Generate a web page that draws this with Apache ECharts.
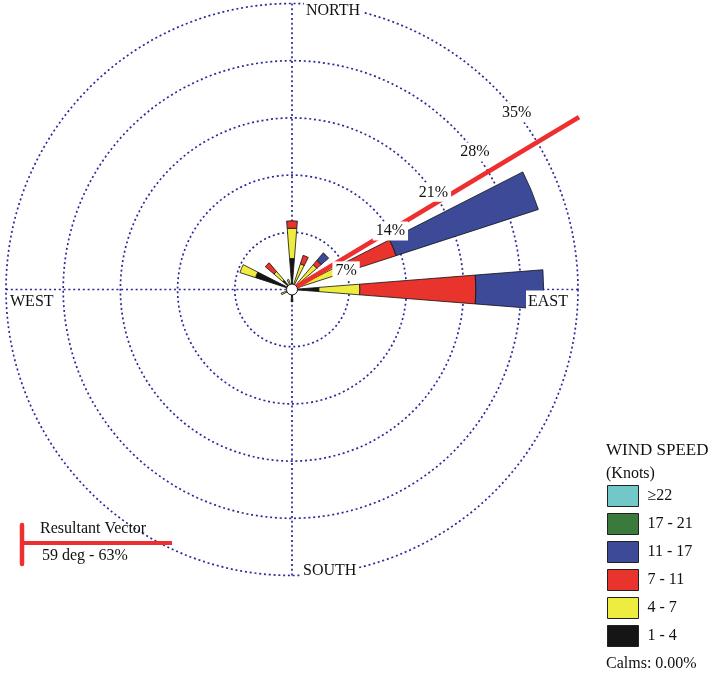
<!DOCTYPE html>
<html><head><meta charset="utf-8">
<script src="https://cdn.jsdelivr.net/npm/echarts@6/dist/echarts.min.js"></script>
<style>html,body{margin:0;padding:0;background:#fff}#c{width:716px;height:674px}</style>
</head><body><div id="c"></div>
<script>
// ---- data ----
const directions = ['N','NNE','NE','ENE','E','ESE','SE','SSE','S','SSW','SW','WSW','W','WNW','NW','NNW'];
const speedClasses = ['1 - 4','4 - 7','7 - 11','11 - 17','17 - 21','≥22'];
// percent frequency per direction for each speed class (null = none)
const speed1to4   = [3.8, 0.6, 0.8, 0.8, 3.3, null, null, null, 1.5, null, null, 0.5, null, 4.7, 1.5, 0.6];
const speed4to7   = [3.7, 2.7, 3.2, 5.0, 5.0, null, null, null, null, null, null, 0.9, null, 2.0, 1.4, 0.7];
const speed7to11  = [0.9, 1.1, 0.7, 7.6, 14.2, null, null, null, null, null, null, null, null, null, 1.4, null];
const speed11to17 = [null, null, 1.2, 18.3, 8.3, null, null, null, null, null, null, null, null, null, null, null];
const speed17to21 = [null, null, null, null, null, null, null, null, null, null, null, null, null, null, null, null];
const speed22up   = [null, null, null, null, null, null, null, null, null, null, null, null, null, null, null, null];
const ringTicks = [7, 14, 21, 28, 35];
const radialMax = 35;
const resultantBearing = 59;       // deg
const resultantDrawnLength = 41;   // % on radial scale (line runs off the rose)
const resultantText = ['Resultant Vector', '59 deg - 63%'];
const legendTitle = ['WIND SPEED', '(Knots)'];
const calmsText = 'Calms: 0.00%';

// ---- styles ----
const CX = 292, CY = 289.5, R = 286;
const FONT = '"Liberation Serif", "Times New Roman", serif';
const GRID = { color: '#2a2a9a', width: 1.7, type: [2, 2.8] };
const classColors = ['#151515', '#eeec3e', '#e8342c', '#3c4a98', '#3a7a3c', '#70c8c8'];
const classData = [speed1to4, speed4to7, speed7to11, speed11to17, speed17to21, speed22up];
const ringLabelBearing = {7: 71, 14: 59.3, 21: 55.5, 28: 53.1, 35: 51.8};

const chart = echarts.init(document.getElementById('c'), null, {renderer: 'canvas'});

const hiddenAxis = { axisLine: { show: false }, axisTick: { show: false }, axisLabel: { show: false }, splitLine: { show: false } };

const barSeries = speedClasses.map((name, i) => ({
  name, type: 'bar', coordinateSystem: 'polar', polarIndex: 1, stack: 'wind',
  barWidth: '40%', z: 3,
  itemStyle: { color: classColors[i], borderColor: '#111', borderWidth: 0.8 },
  data: classData[i]
}));

const option = {
  animation: false,
  backgroundColor: '#fff',
  polar: [
    { center: [CX, CY], radius: R },
    { center: [CX, CY], radius: R },
    // same scale, extended so the resultant vector may run past the outer ring
    { center: [CX, CY], radius: R * resultantDrawnLength / radialMax }
  ],
  angleAxis: [
    { polarIndex: 0, type: 'value', min: 0, max: 360, interval: 90, startAngle: 90, clockwise: true,
      axisLine: { show: false }, axisTick: { show: false }, axisLabel: { show: false },
      splitLine: { show: true, lineStyle: GRID } },
    Object.assign({ polarIndex: 1, type: 'category', data: directions, startAngle: 90 + 180 / directions.length, clockwise: true }, hiddenAxis),
    Object.assign({ polarIndex: 2, type: 'value', min: 0, max: 360, startAngle: 90, clockwise: true }, hiddenAxis)
  ],
  radiusAxis: [
    { polarIndex: 0, type: 'value', min: 0, max: radialMax, interval: 7,
      axisLine: { show: false }, axisTick: { show: false }, axisLabel: { show: false },
      splitLine: { show: true, lineStyle: GRID } },
    Object.assign({ polarIndex: 1, type: 'value', min: 0, max: radialMax, interval: 7 }, hiddenAxis),
    Object.assign({ polarIndex: 2, type: 'value', min: 0, max: resultantDrawnLength }, hiddenAxis)
  ],
  legend: {
    orient: 'vertical', left: 607, top: 485, padding: 0, itemWidth: 31, itemHeight: 21, itemGap: 6,
    icon: 'rect', selectedMode: false,
    data: speedClasses.slice().reverse(),
    itemStyle: { borderColor: '#222', borderWidth: 1 },
    textStyle: { fontFamily: FONT, fontSize: 16, color: '#111', padding: [0, 0, 0, 4] }
  },
  series: [
    ...barSeries,
    { type: 'line', coordinateSystem: 'polar', polarIndex: 2, clip: false, z: 4,
      symbol: 'none', silent: true,
      lineStyle: { color: '#ee2f2f', width: 4.5, cap: 'butt' },
      data: [[0, resultantBearing], [resultantDrawnLength, resultantBearing]] },
    { type: 'scatter', coordinateSystem: 'polar', polarIndex: 0, z: 6, silent: true,
      symbolSize: 11, itemStyle: { color: '#fff', borderColor: '#111', borderWidth: 1, opacity: 1 },
      data: [[0, 0]] },
    { type: 'scatter', coordinateSystem: 'polar', polarIndex: 0, z: 7, silent: true,
      symbolSize: 1, itemStyle: { color: 'rgba(0,0,0,0)', opacity: 1 },
      label: { show: true, position: 'inside', formatter: p => p.value[0] + '%',
        backgroundColor: '#fff', padding: [2, 3, 1, 3], opacity: 1,
        fontFamily: FONT, fontSize: 16, color: '#111' },
      data: ringTicks.map(v => [v, ringLabelBearing[v]]) }
  ],
  graphic: [
    // compass labels
    { type: 'text', z: 100, x: CX + 12, y: CY - R + 7.5, style: { text: 'NORTH', font: '16px ' + FONT, fill: '#111', textVerticalAlign: 'middle', backgroundColor: '#fff', padding: [1, 2, 1, 2] } },
    { type: 'text', z: 100, x: CX + 9, y: CY + R - 4.5, style: { text: 'SOUTH', font: '16px ' + FONT, fill: '#111', textVerticalAlign: 'middle', backgroundColor: '#fff', padding: [1, 2, 1, 2] } },
    { type: 'text', z: 100, x: CX - R + 2, y: CY + 12.5, style: { text: 'WEST', font: '16px ' + FONT, fill: '#111', textVerticalAlign: 'middle', padding: [1, 2, 1, 2] } },
    { type: 'text', z: 100, x: CX + 234, y: CY + 12.5, style: { text: 'EAST', font: '16px ' + FONT, fill: '#111', textVerticalAlign: 'middle', backgroundColor: '#fff', padding: [5, 2, 2, 2] } },
    // resultant vector key
    { type: 'line', z: 100, shape: { x1: 22, y1: 525, x2: 22, y2: 564 }, style: { stroke: '#ee2f2f', lineWidth: 4.5, lineCap: 'round' } },
    { type: 'line', z: 100, shape: { x1: 22, y1: 543, x2: 172, y2: 543 }, style: { stroke: '#ee2f2f', lineWidth: 4, lineCap: 'butt' } },
    { type: 'text', z: 100, x: 40, y: 529, style: { text: resultantText[0], font: '16px ' + FONT, fill: '#111', textVerticalAlign: 'middle' } },
    { type: 'text', z: 100, x: 42, y: 556, style: { text: resultantText[1], font: '16px ' + FONT, fill: '#111', textVerticalAlign: 'middle' } },
    // wind speed key titles
    { type: 'text', z: 100, x: 606, y: 451, style: { text: legendTitle[0], font: '17px ' + FONT, fill: '#111', textVerticalAlign: 'middle' } },
    { type: 'text', z: 100, x: 606, y: 474, style: { text: legendTitle[1], font: '16px ' + FONT, fill: '#111', textVerticalAlign: 'middle' } },
    { type: 'text', z: 100, x: 606, y: 664, style: { text: calmsText, font: '16px ' + FONT, fill: '#111', textVerticalAlign: 'middle' } }
  ]
};
chart.setOption(option);
</script>
</body></html>
